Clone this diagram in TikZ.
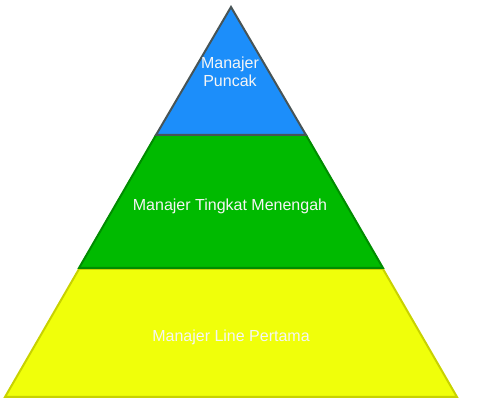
\documentclass[tikz,border=0pt]{standalone}
\usepackage{fontspec}
\setmainfont{Liberation Sans}
\usepackage{tikz}
\usetikzlibrary{positioning}
\definecolor{puncakblue}{RGB}{28,142,250}
\definecolor{puncakline}{RGB}{72,84,86}
\definecolor{tengahgreen}{RGB}{0,186,0}
\definecolor{tengahline}{RGB}{0,140,0}
\definecolor{pertamayellow}{RGB}{240,255,10}
\definecolor{pertamaline}{RGB}{200,210,0}
\tikzset{
  layer/.style={line width=2pt, line join=miter},
  label/.style={text=white!96!black, font=\fontsize{16pt}{18pt}\selectfont, align=center, inner sep=0pt}
}

\begin{document}
\begin{tikzpicture}[x=1pt,y=1pt]

  \useasboundingbox (0,0) rectangle (480,419);

  % apex (231,412), base 22, cuts at 284 and 150
  \coordinate (apex) at (231,412);
  \coordinate (bl) at (5,22);
  \coordinate (br) at (457,22);

  % bottom layer
  \draw[layer, draw=pertamaline, fill=pertamayellow]
    (bl) -- (br) -- (383,150) -- (79,150) -- cycle;
  % middle layer
  \draw[layer, draw=tengahline, fill=tengahgreen]
    (79,151) -- (383,151) -- (306,284) -- (156,284) -- cycle;
  % top layer
  \draw[layer, draw=puncakline, fill=puncakblue]
    (156,284) -- (306,284) -- (apex) -- cycle;

  \node[label] (puncak) at (230,347) {Manajer\\Puncak};
  \node[label] (tengah) at (230,213) {Manajer Tingkat Menengah};
  \node[label] (pertama) at (231,82) {Manajer Line Pertama};

\end{tikzpicture}
\end{document}
